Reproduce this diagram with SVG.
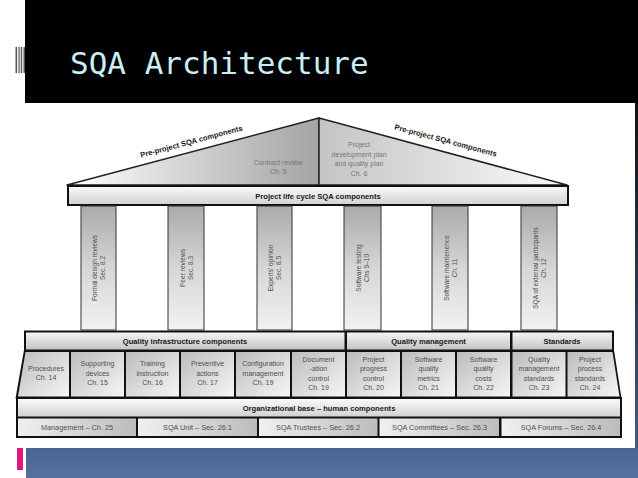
<svg xmlns="http://www.w3.org/2000/svg" width="638" height="478" viewBox="0 0 638 478">
<defs>
<linearGradient id="gLeftRoof" x1="0" y1="0" x2="1" y2="0"><stop offset="0" stop-color="#ffffff"/><stop offset="1" stop-color="#a4a4a4"/></linearGradient>
<linearGradient id="gRightRoof" x1="0" y1="0" x2="1" y2="0"><stop offset="0" stop-color="#c4c4c4"/><stop offset="1" stop-color="#fafafa"/></linearGradient>
<linearGradient id="gBeam" x1="0" y1="0" x2="0" y2="1"><stop offset="0" stop-color="#fafafa"/><stop offset="1" stop-color="#d2d2d2"/></linearGradient>
<linearGradient id="gPillar" x1="0" y1="0" x2="0" y2="1"><stop offset="0" stop-color="#aaaaaa"/><stop offset="0.5" stop-color="#d6d6d6"/><stop offset="1" stop-color="#f2f2f2"/></linearGradient>
<linearGradient id="gHead" x1="0" y1="0" x2="0" y2="1"><stop offset="0" stop-color="#f4f4f4"/><stop offset="1" stop-color="#c4c4c4"/></linearGradient>
<linearGradient id="gCell" x1="0" y1="0" x2="1" y2="1"><stop offset="0" stop-color="#bcbcbc"/><stop offset="1" stop-color="#f6f6f6"/></linearGradient>
<linearGradient id="gBot" x1="0" y1="0" x2="1" y2="0"><stop offset="0" stop-color="#f0f0f0"/><stop offset="1" stop-color="#bcbcbc"/></linearGradient>
<linearGradient id="gBlue" x1="0" y1="0" x2="0" y2="1"><stop offset="0" stop-color="#4b6593"/><stop offset="1" stop-color="#56709c"/></linearGradient>
<linearGradient id="gRight" x1="0" y1="0" x2="0" y2="1"><stop offset="0" stop-color="#111111"/><stop offset="1" stop-color="#46597e"/></linearGradient>
</defs>
<style>
.t{font-family:"Liberation Sans",Arial,sans-serif;font-size:7px;fill:#505050;text-anchor:middle}
.p{font-size:6.6px}
.s{font-size:7.3px}
.r{fill:#777}
.b{font-family:"Liberation Sans",Arial,sans-serif;font-size:7.6px;font-weight:bold;fill:#1a1a1a;text-anchor:middle}
.frame{fill:#111}
.pillar{fill:url(#gPillar);stroke:#333;stroke-width:1}
.cell{fill:url(#gCell)}
.head{fill:url(#gHead)}
.bot{fill:url(#gBot)}
</style>
<rect width="638" height="478" fill="#ffffff"/>
<g id="slide">
<rect x="25" y="0" width="613" height="103" fill="#000"/>
<rect x="15.5" y="47" width="1.6" height="26" fill="#555"/>
<rect x="18.5" y="47" width="1.2" height="26" fill="#555"/>
<rect x="20.8" y="47" width="1.4" height="26" fill="#555"/>
<rect x="23.5" y="47" width="1.5" height="26" fill="#555"/>
<text x="70" y="74" font-family="'DejaVu Sans Mono',monospace" font-size="31" fill="#c8eef6">SQA Architecture</text>
<rect x="635" y="103" width="3" height="345" fill="url(#gRight)"/>
<rect x="26" y="448" width="612" height="30" fill="url(#gBlue)"/>
<rect x="17" y="448" width="6" height="22" fill="#e0177c"/>
</g>
<g id="roof">
<polygon points="67,185 319,118 319,185" fill="url(#gLeftRoof)" stroke="#222" stroke-width="1.5" stroke-linejoin="round"/>
<polygon points="319,118 567,185 319,185" fill="url(#gRightRoof)" stroke="#222" stroke-width="1.5" stroke-linejoin="round"/>
<text class="b" transform="translate(192,144) rotate(-15)">Pre-project SQA components</text>
<text class="b" transform="translate(445,143) rotate(15)">Pre-project SQA components</text>
<text class="t r"><tspan x="278" y="165">Contract review</tspan><tspan x="278" y="174">Ch. 5</tspan></text>
<text class="t r"><tspan x="359" y="147">Project</tspan><tspan x="359" y="156.5">development plan</tspan><tspan x="359" y="166">and quality plan</tspan><tspan x="359" y="175.5">Ch. 6</tspan></text>
</g>
<g id="beam">
<rect x="68" y="186" width="500" height="19" fill="url(#gBeam)" stroke="#111" stroke-width="2"/>
<text class="b" x="318" y="198.5">Project life cycle SQA components</text>
</g>
<g id="pillar-1">
<rect class="pillar" x="81" y="206" width="35" height="124"/>
<text class="t p" transform="translate(98.5,268) rotate(-90)"><tspan x="0" y="-1.2">Formal design reviews</tspan><tspan x="0" y="6.8">Sec. 8.2</tspan></text>
</g>
<g id="pillar-2">
<rect class="pillar" x="168" y="206" width="36" height="124"/>
<text class="t p" transform="translate(186,268) rotate(-90)"><tspan x="0" y="-1.2">Peer reviews</tspan><tspan x="0" y="6.8">Sec. 8.3</tspan></text>
</g>
<g id="pillar-3">
<rect class="pillar" x="257" y="206" width="35" height="124"/>
<text class="t p" transform="translate(274.5,268) rotate(-90)"><tspan x="0" y="-1.2">Experts' opinion</tspan><tspan x="0" y="6.8">Sec. 8.5</tspan></text>
</g>
<g id="pillar-4">
<rect class="pillar" x="344" y="206" width="37" height="124"/>
<text class="t p" transform="translate(362.5,268) rotate(-90)"><tspan x="0" y="-1.2">Software testing</tspan><tspan x="0" y="6.8">Chs 9–10</tspan></text>
</g>
<g id="pillar-5">
<rect class="pillar" x="432" y="206" width="36" height="124"/>
<text class="t p" transform="translate(450,268) rotate(-90)"><tspan x="0" y="-1.2">Software maintenence</tspan><tspan x="0" y="6.8">Ch. 11</tspan></text>
</g>
<g id="pillar-6">
<rect class="pillar" x="521" y="206" width="36" height="124"/>
<text class="t p" transform="translate(539,268) rotate(-90)"><tspan x="0" y="-1.2">SQA of external participants</tspan><tspan x="0" y="6.8">Ch. 12</tspan></text>
</g>
<g id="headers">
<rect class="frame" x="24" y="330.5" width="590" height="21"/>
<rect class="head" x="26" y="332.5" width="318.5" height="17"/>
<rect class="head" x="347" y="332.5" width="163" height="17"/>
<rect class="head" x="512.5" y="332.5" width="99.5" height="17"/>
<text class="b" x="185" y="343.5">Quality infrastructure components</text>
<text class="b" x="428.5" y="343.5">Quality management</text>
<text class="b" x="562" y="343.5">Standards</text>
</g>
<g id="components">
<polygon class="frame" points="24,350 614,350 621.5,398.5 15.5,398.5"/>
<polygon class="cell" points="25.5,352 69,352 69,396.5 18,396.5"/>
<rect class="cell" x="71" y="352" width="53" height="44.5"/>
<rect class="cell" x="126" y="352" width="53" height="44.5"/>
<rect class="cell" x="181" y="352" width="53" height="44.5"/>
<rect class="cell" x="236" y="352" width="54" height="44.5"/>
<rect class="cell" x="292" y="352" width="53" height="44.5"/>
<rect class="cell" x="347" y="352" width="53" height="44.5"/>
<rect class="cell" x="402" y="352" width="53" height="44.5"/>
<rect class="cell" x="457" y="352" width="53" height="44.5"/>
<rect class="cell" x="512.5" y="352" width="53" height="44.5"/>
<polygon class="cell" points="567.5,352 612.5,352 619.5,396.5 567.5,396.5"/>
<text class="t"><tspan x="46" y="370.5">Procedures</tspan><tspan x="46" y="380">Ch. 14</tspan></text>
<text class="t"><tspan x="97.5" y="366">Supporting</tspan><tspan x="97.5" y="375.5">devices</tspan><tspan x="97.5" y="385">Ch. 15</tspan></text>
<text class="t"><tspan x="152.5" y="366">Training</tspan><tspan x="152.5" y="375.5">instruction</tspan><tspan x="152.5" y="385">Ch. 16</tspan></text>
<text class="t"><tspan x="207.5" y="366">Preventive</tspan><tspan x="207.5" y="375.5">actions</tspan><tspan x="207.5" y="385">Ch. 17</tspan></text>
<text class="t"><tspan x="263" y="366">Configuration</tspan><tspan x="263" y="375.5">management</tspan><tspan x="263" y="385">Ch. 19</tspan></text>
<text class="t"><tspan x="318.5" y="361.5">Document</tspan><tspan x="318.5" y="371">-ation</tspan><tspan x="318.5" y="380.5">control</tspan><tspan x="318.5" y="390">Ch. 19</tspan></text>
<text class="t"><tspan x="373.5" y="361.5">Project</tspan><tspan x="373.5" y="371">progress</tspan><tspan x="373.5" y="380.5">control</tspan><tspan x="373.5" y="390">Ch. 20</tspan></text>
<text class="t"><tspan x="428.5" y="361.5">Software</tspan><tspan x="428.5" y="371">quality</tspan><tspan x="428.5" y="380.5">metrics</tspan><tspan x="428.5" y="390">Ch. 21</tspan></text>
<text class="t"><tspan x="483.5" y="361.5">Software</tspan><tspan x="483.5" y="371">quality</tspan><tspan x="483.5" y="380.5">costs</tspan><tspan x="483.5" y="390">Ch. 22</tspan></text>
<text class="t"><tspan x="539" y="361.5">Quality</tspan><tspan x="539" y="371">management</tspan><tspan x="539" y="380.5">standards</tspan><tspan x="539" y="390">Ch. 23</tspan></text>
<text class="t"><tspan x="590" y="361.5">Project</tspan><tspan x="590" y="371">process</tspan><tspan x="590" y="380.5">standards</tspan><tspan x="590" y="390">Ch. 24</tspan></text>
</g>
<g id="org-base">
<rect class="frame" x="16" y="397" width="606" height="41"/>
<rect x="18" y="399" width="602" height="17.5" fill="url(#gBeam)"/>
<text class="b" x="319" y="410.5">Organizational base – human components</text>
</g>
<g id="human-components">
<rect class="bot" x="18" y="418.5" width="118" height="17.5"/>
<rect class="bot" x="138" y="418.5" width="119" height="17.5"/>
<rect class="bot" x="259" y="418.5" width="118.5" height="17.5"/>
<rect class="bot" x="379.5" y="418.5" width="119.5" height="17.5"/>
<rect class="bot" x="501.5" y="418.5" width="118.5" height="17.5"/>
<text class="t s" x="77" y="429.8">Management – Ch. 25</text>
<text class="t s" x="197.5" y="429.8">SQA Unit – Sec. 26.1</text>
<text class="t s" x="318" y="429.8">SQA Trustees – Sec. 26.2</text>
<text class="t s" x="439.5" y="429.8">SQA Committees – Sec. 26.3</text>
<text class="t s" x="561" y="429.8">SQA Forums – Sec. 26.4</text>
</g>
</svg>
